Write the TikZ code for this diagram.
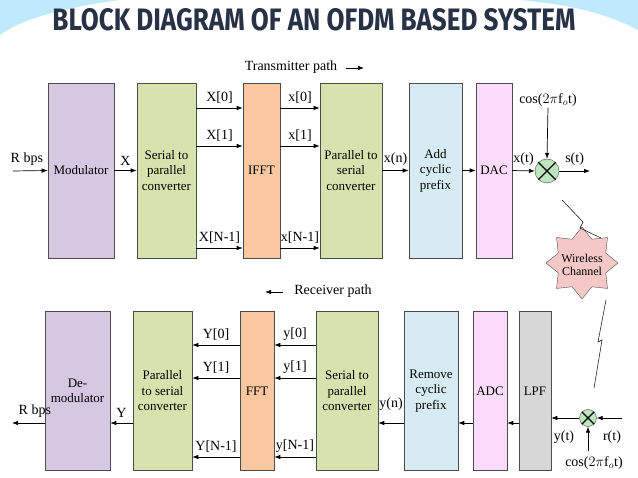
\documentclass[tikz,border=0pt]{standalone}
\usepackage{fontspec}
\setmainfont{Liberation Serif}
\newfontfamily\titlefont{Fira Sans}[FakeStretch=0.84]
\usetikzlibrary{arrows.meta,shapes.geometric,shapes.misc}
\definecolor{cmod}{RGB}{214,200,226}
\definecolor{cgreen}{RGB}{214,227,174}
\definecolor{cfft}{RGB}{250,200,160}
\definecolor{ccyc}{RGB}{214,236,242}
\definecolor{cdac}{RGB}{250,220,250}
\definecolor{clpf}{RGB}{215,215,215}
\definecolor{cmix}{RGB}{190,230,190}
\definecolor{cstar}{RGB}{245,200,200}
\definecolor{ctitle}{RGB}{40,50,70}
\begin{document}
\begin{tikzpicture}[x=1pt,y=-1pt,
  blk/.style={draw=black!70,line width=0.6pt,inner sep=0pt,font=\fontsize{13}{15.5}\selectfont,align=center},
  lab/.style={font=\fontsize{14}{15}\selectfont,inner sep=1pt},
  arr/.style={-{Latex[length=6pt,width=4.5pt]},line width=0.7pt},
  ln/.style={line width=0.5pt}]
\useasboundingbox (0,0) rectangle (638,478);
\fill[white] (0,0) rectangle (638,478);
\fill[cyan!25] (0,0) -- (120,0) .. controls (60,8) and (20,20) .. (0,35) -- cycle;
\fill[cyan!25] (520,0) -- (638,0) -- (638,30) .. controls (600,10) and (560,4) .. (520,0) -- cycle;
\node[font=\titlefont\bfseries\fontsize{31}{32}\selectfont,text=ctitle] (title) at (314,20) {BLOCK DIAGRAM OF AN OFDM BASED SYSTEM};
% transmitter
\node[lab] (tp) at (291,67) {Transmitter path};
\coordinate (tpa) at (346,68); \coordinate (tpb) at (364,68);
\draw[arr] (tpa) -- (tpb);
\node[blk,fill=cmod,minimum width=66pt,minimum height=175pt] (mod) at (81,170.5) {Modulator};
\node[blk,fill=cgreen,minimum width=59pt,minimum height=175pt] (sp) at (166.5,170.5) {Serial to\\parallel\\converter};
\node[blk,fill=cfft,minimum width=37pt,minimum height=175pt] (ifft) at (261.5,170.5) {IFFT};
\node[blk,fill=cgreen,minimum width=62pt,minimum height=175pt] (ps) at (351,170.5) {Parallel to\\serial\\converter};
\node[blk,fill=ccyc,minimum width=53pt,minimum height=175pt] (acp) at (435.5,170.5) {Add\\cyclic\\prefix};
\node[blk,fill=cdac,minimum width=36pt,minimum height=175pt] (dac) at (494,170.5) {DAC};
\node[circle,draw=black!70,fill=cmix,minimum size=24pt,inner sep=0pt] (mx) at (547,171) {};
\draw[line width=1.3pt] (mx.45) -- (mx.225) (mx.135) -- (mx.315);
\coordinate (rin) at (13,171);
\draw[arr] (rin) -- (mod.west) node[lab,pos=0.4,above=4pt] {R bps};
\draw[arr] (mod.east) -- (sp.west) node[lab,midway,above=4pt] {X};
\foreach \y/\a/\b in {108/X[0]/x[0],146/X[1]/x[1],248/X[N-1]/x[N-1]}{
  \draw[arr] (sp.east |- 0,\y) -- (ifft.west |- 0,\y) node[lab,midway,above=3pt] {\a};
  \draw[arr] (ifft.east |- 0,\y) -- (ps.west |- 0,\y) node[lab,midway,above=3pt] {\b};
}
\draw[arr] (ps.east) -- (acp.west) node[lab,midway,above=4pt] {x(n)};
\draw[arr] (acp.east) -- (dac.west);
\draw[arr] (dac.east) -- (mx.west) node[lab,midway,above=4pt] {x(t)};
\coordinate (sout) at (590,171);
\draw[arr] (mx.east) -- (sout) node[lab,midway,above=4pt] {s(t)};
\node[lab] (cos1) at (548,100) {cos($2\pi$f$_{o}$t)};
\draw[arr] (cos1.south) -- (mx.north);
% channel
\node[star,star points=8,star point ratio=1.4,draw=black!70,fill=cstar,minimum size=72pt,inner sep=0pt] (ch) at (582,263) {};
\node[lab,align=center,font=\fontsize{12}{13}\selectfont] (cht) at (582,265) {Wireless\\Channel};
\coordinate (l1) at (562,200); \coordinate (l2) at (583,222); \coordinate (l3) at (580,228); \coordinate (l4) at (601,238);
\draw[ln] (l1) -- (l2) -- (l3) -- (l4);
\coordinate (l5) at (606,300); \coordinate (l6) at (598,342); \coordinate (l7) at (602,340); \coordinate (l8) at (594,388);
\draw[ln] (l5) -- (l6) -- (l7) -- (l8);
% receiver
\coordinate (rpa) at (283,292); \coordinate (rpb) at (265,292);
\draw[arr] (rpa) -- (rpb);
\node[lab] (rp) at (333,291) {Receiver path};
\node[blk,fill=cmod,minimum width=65pt,minimum height=159pt] (dem) at (77.5,391) {De-\\modulator};
\node[blk,fill=cgreen,minimum width=59pt,minimum height=159pt] (ps2) at (162.5,391) {Parallel\\to serial\\converter};
\node[blk,fill=cfft,minimum width=34pt,minimum height=159pt] (fft) at (257,391) {FFT};
\node[blk,fill=cgreen,minimum width=62pt,minimum height=159pt] (sp2) at (347,391) {Serial to\\parallel\\converter};
\node[blk,fill=ccyc,minimum width=54pt,minimum height=159pt] (rcp) at (431,391) {Remove\\cyclic\\prefix};
\node[blk,fill=cdac,minimum width=34pt,minimum height=159pt] (adc) at (490,391) {ADC};
\node[blk,fill=clpf,minimum width=32pt,minimum height=159pt] (lpf) at (535,391) {LPF};
\node[circle,draw=black!70,fill=cmix,minimum size=17pt,inner sep=0pt] (mx2) at (588,418) {};
\draw[line width=1.2pt] (mx2.45) -- (mx2.225) (mx2.135) -- (mx2.315);
\coordinate (rout) at (12,423);
\draw[arr] (dem.west |- 0,423) -- (rout) node[lab,pos=0.3,above=4pt] {R bps};
\draw[arr] (ps2.west |- 0,423) -- (dem.east |- 0,423) node[lab,midway,above=4pt] {Y};
\foreach \y/\a/\b in {345/Y[0]/y[0],378/Y[1]/y[1],457/Y[N-1]/y[N-1]}{
  \draw[arr] (fft.west |- 0,\y) -- (ps2.east |- 0,\y) node[lab,midway,above=3pt] {\a};
  \draw[arr] (sp2.west |- 0,\y) -- (fft.east |- 0,\y) node[lab,midway,above=3pt] {\b};
}
\draw[arr] (rcp.west |- 0,423) -- (sp2.east |- 0,423);
\node[lab] (yn) at (391,404) {y(n)};
\draw[arr] (adc.west |- 0,423) -- (rcp.east |- 0,423);
\draw[arr] (lpf.west |- 0,423) -- (adc.east |- 0,423);
\draw[arr] (mx2.west |- 0,418) -- (lpf.east |- 0,418);
\node[lab] (yt) at (564,437) {y(t)};
\coordinate (rin2) at (622,418);
\draw[arr] (rin2) -- (mx2.east);
\node[lab] (rt) at (612,437) {r(t)};
\node[lab] (cos2) at (594,463) {cos($2\pi$f$_{o}$t)};
\coordinate (c2a) at (588,451);
\draw[arr] (c2a) -- (mx2.south);
\end{tikzpicture}
\end{document}
